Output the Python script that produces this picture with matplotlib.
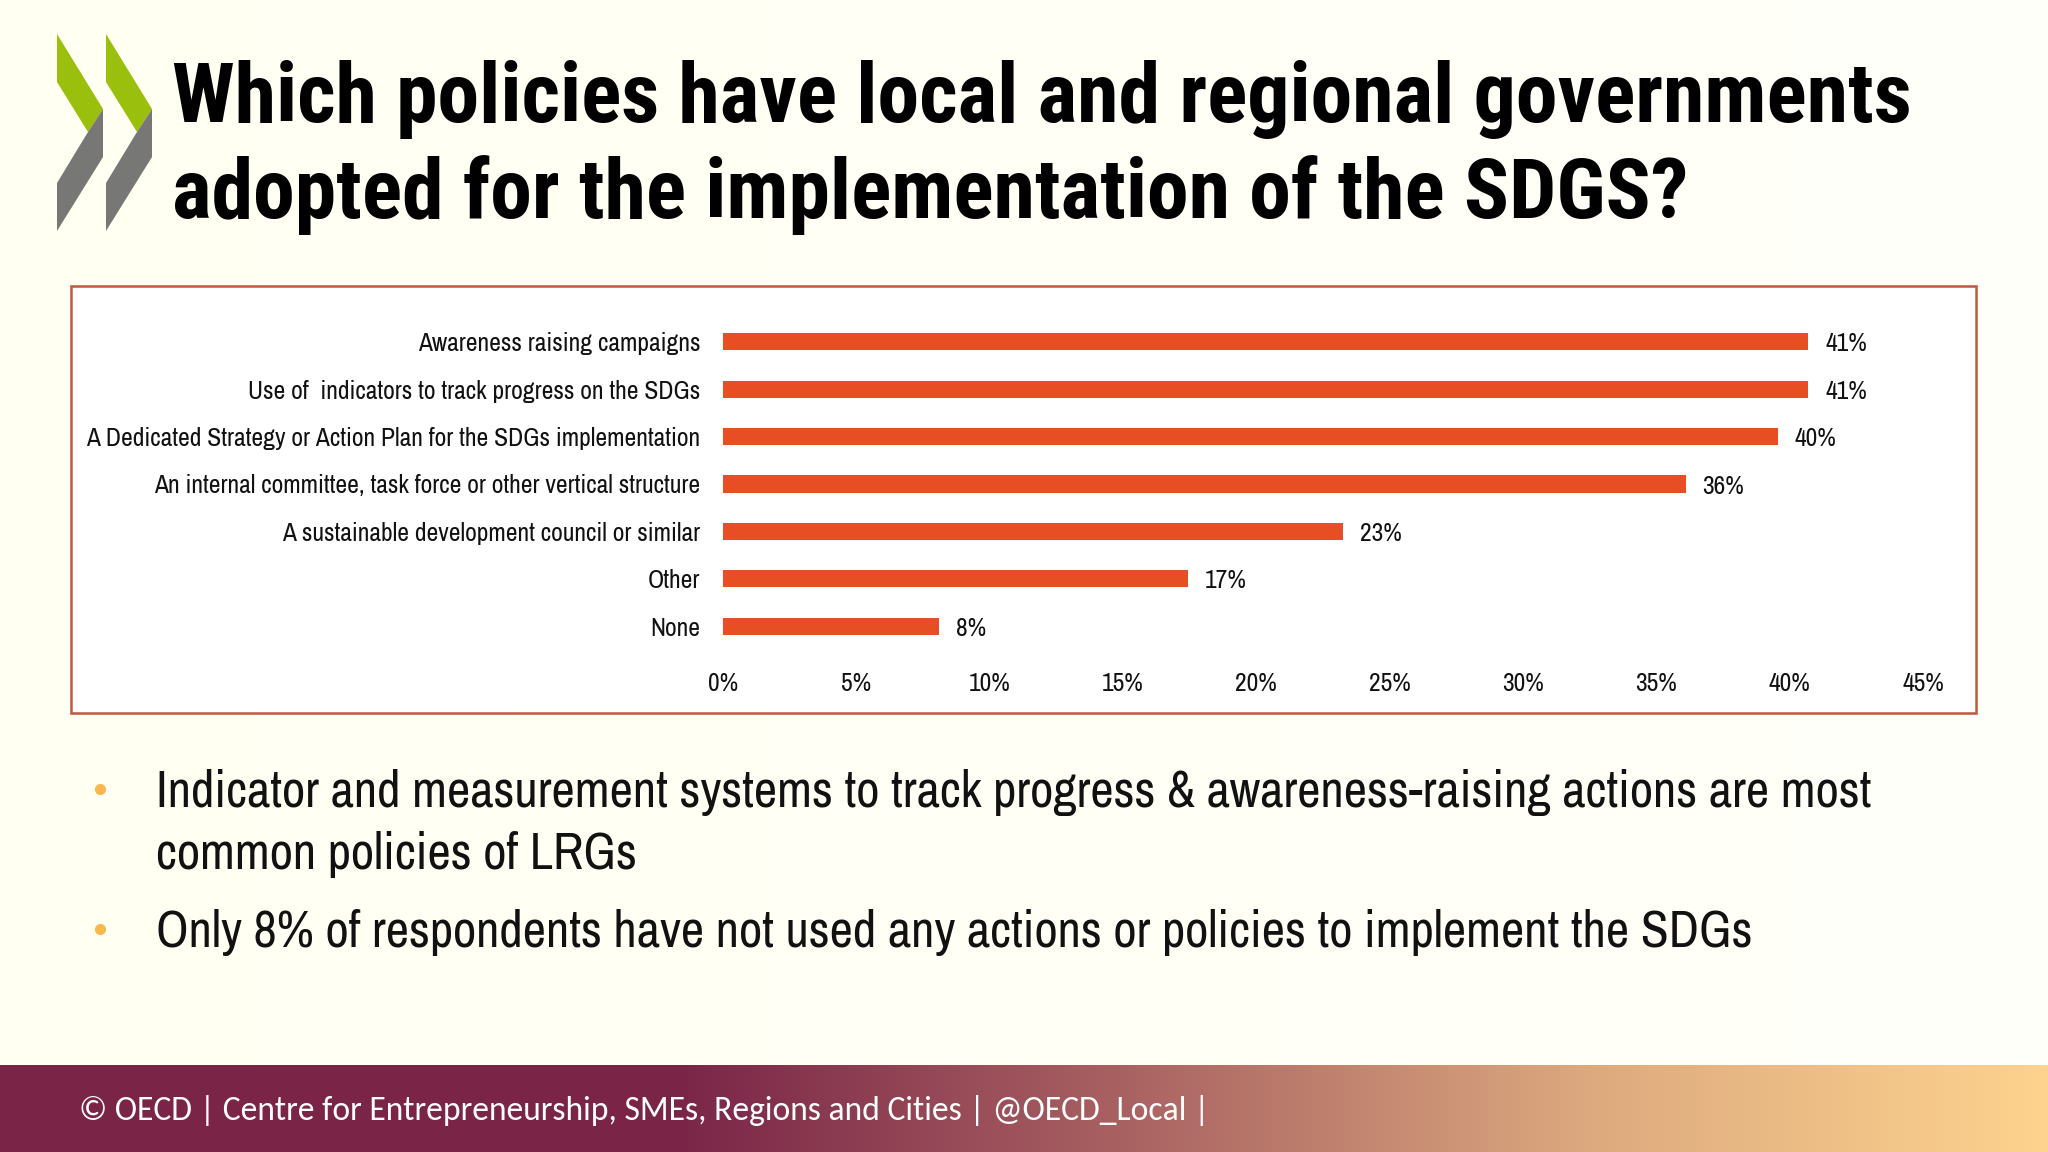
import numpy as np
import matplotlib
matplotlib.use('Agg')
import matplotlib.pyplot as plt
from matplotlib.colors import LinearSegmentedColormap
from matplotlib.patches import Polygon, Rectangle

W, H = 2048, 1152

# chart data
categories = ['Awareness raising campaigns',
              'Use of  indicators to track progress on the SDGs',
              'A Dedicated Strategy or Action Plan for the SDGs implementation',
              'An internal committee, task force or other vertical structure',
              'A sustainable development council or similar',
              'Other',
              'None']
values = [40.7, 40.7, 39.55, 36.1, 23.25, 17.45, 8.1]
value_labels = ['41%', '41%', '40%', '36%', '23%', '17%', '8%']
xticks = [0, 5, 10, 15, 20, 25, 30, 35, 40, 45]

title_lines = ['Which policies have local and regional governments',
               'adopted for the implementation of the SDGS?']
footer_text = '© OECD | Centre for Entrepreneurship, SMEs, Regions and Cities | @OECD_Local |'

narrow = ['Archivo Narrow', 'Roboto Condensed', 'Liberation Sans']
titlefont = ['Roboto Condensed', 'Liberation Sans']
footfont = ['Carlito', 'Lato']

fig = plt.figure(figsize=(W / 100, H / 100), dpi=100)

# whole slide in pixel coords
bg = fig.add_axes([0, 0, 1, 1])
bg.set_xlim(0, W)
bg.set_ylim(H, 0)
bg.axis('off')

# cream background fading to lighter at the right
bgmap = LinearSegmentedColormap.from_list('bg', ['#FFFFF2', '#FFFFF6', '#FFFFFA'])
bg.imshow(np.linspace(0, 1, 256).reshape(1, -1), cmap=bgmap, extent=[0, W, 1065, 0], aspect='auto')

# footer band
footmap = LinearSegmentedColormap.from_list(
    'foot', [(0, '#7A2548'), (0.33, '#7A2548'), (0.55, '#A96262'), (0.78, '#DDAA7F'), (1, '#FDD38E')])
bg.imshow(np.linspace(0, 1, 512).reshape(1, -1), cmap=footmap, extent=[0, W, H, 1065], aspect='auto')
bg.set_xlim(0, W)
bg.set_ylim(H, 0)
bg.text(79, 1110, footer_text, color='white', fontsize=24.2, family=footfont, va='center', ha='left')

# logo chevrons
for dx in (0, 49):
    bg.add_patch(Polygon([(57 + dx, 34), (103 + dx, 109), (88 + dx, 132), (57 + dx, 82)], color='#9ABF0C', lw=0))
    bg.add_patch(Polygon([(103 + dx, 109), (103 + dx, 157), (57 + dx, 231), (57 + dx, 183), (88 + dx, 132)],
                         color='#777775', lw=0))

# title
bg.text(172, 122, title_lines[0], fontsize=60.3, family=titlefont, fontweight='bold', va='baseline', color='black')
bg.text(172, 218, title_lines[1], fontsize=60.3, family=titlefont, fontweight='bold', va='baseline', color='black')

# chart frame
bg.add_patch(Rectangle((71, 286), 1905, 427, facecolor='white', edgecolor='#C0573F', lw=1.8))

# bullets
bullets = [(807, 'Indicator and measurement systems to track progress & awareness-raising actions are most'),
           (869, 'common policies of LRGs'),
           (947, 'Only 8% of respondents have not used any actions or policies to implement the SDGs')]
for y, txt in bullets:
    bg.text(156, y, txt, fontsize=36.75, family=narrow, va='baseline', color='#111111')
for y in (789, 929):
    bg.plot([100], [y], 'o', ms=8, color='#F9B74E', mew=0)

# bar chart
ax = fig.add_axes([723 / W, 1 - 650 / H, 1200 / W, 332 / H])
ax.patch.set_alpha(0)
ypos = np.arange(len(categories))
bars = ax.barh(ypos, values, height=0.36, color='#E84E23')
ax.set_xlim(0, 45)
ax.set_ylim(6.5, -0.5)
ax.set_yticks(ypos)
ax.set_yticklabels(categories, family=narrow, fontsize=18.4, color='#111111')
ax.set_xticks(xticks)
ax.set_xticklabels([str(t) + '%' for t in xticks], family=narrow, fontsize=18.4, color='#111111')
ax.tick_params(axis='both', length=0)
ax.tick_params(axis='y', pad=16.5)
ax.tick_params(axis='x', pad=16)
for s in ax.spines.values():
    s.set_visible(False)
labs = ax.bar_label(bars, labels=value_labels, padding=12, family=narrow, fontsize=18.4, color='#111111')
for t in labs:
    t.set_va('center_baseline')

fig.savefig('out.png', dpi=100)
